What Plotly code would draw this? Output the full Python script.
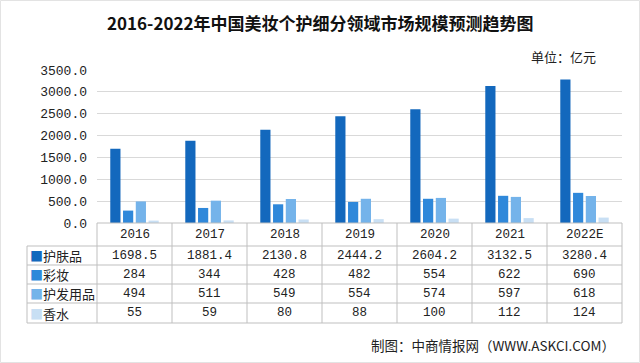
import plotly.graph_objects as go

years = ["2016", "2017", "2018", "2019", "2020", "2021", "2022E"]
series_names = ["护肤品", "彩妆", "护发用品", "香水"]
skincare = [1698.5, 1881.4, 2130.8, 2444.2, 2604.2, 3132.5, 3280.4]
makeup = [284, 344, 428, 482, 554, 622, 690]
haircare = [494, 511, 549, 554, 574, 597, 618]
perfume = [55, 59, 80, 88, 100, 112, 124]
table_text = [
    ["1698.5", "1881.4", "2130.8", "2444.2", "2604.2", "3132.5", "3280.4"],
    ["284", "344", "428", "482", "554", "622", "690"],
    ["494", "511", "549", "554", "574", "597", "618"],
    ["55", "59", "80", "88", "100", "112", "124"],
]
y_ticks = [0, 500, 1000, 1500, 2000, 2500, 3000, 3500]
y_tick_labels = ["0.0", "500.0", "1000.0", "1500.0", "2000.0", "2500.0", "3000.0", "3500.0"]

colors = ["#1368bd", "#2f88da", "#74b3ea", "#c8dff4"]
values = [skincare, makeup, haircare, perfume]

W, H = 640, 363
L, R, T, B = 97, 622, 70, 223
PW, PH = R - L, B - T


def py(Y):
    return (B - Y) / PH


def px(X):
    return (X - L) / PW


def pcat(i):
    # paper x of the centre of category i
    return (i + 0.5) / len(years)


fig = go.Figure()
for name, vals, c in zip(series_names, values, colors):
    fig.add_trace(go.Bar(x=years, y=vals, name=name, marker=dict(color=c, line=dict(width=0)),
                         hoverinfo="skip"))

mono = "Liberation Mono"
cjk = "Noto Sans CJK SC"
grid = "#d9d9d9"
border = "#bfbfbf"

ann = []
shapes = []


def note(x, y, text, font, xanchor="center"):
    ann.append(dict(x=x, y=y, xref="paper", yref="paper", text=text, showarrow=False,
                    xanchor=xanchor, yanchor="middle", font=font))


# header row (years)
for i, yr in enumerate(years):
    note(pcat(i), py(235), yr, dict(family=mono, size=12.5, color="#222"))
row_centers = [255.5, 274.5, 293.5, 313]
for r, (name, c) in enumerate(zip(series_names, colors)):
    note(px(28), py(row_centers[r]), f"<span style='color:{c}'>■</span>{name}",
         dict(family=cjk, size=13, color="#222"), xanchor="left")
    for i in range(len(years)):
        note(pcat(i), py(row_centers[r]), table_text[r][i], dict(family=mono, size=12.5, color="#222"))

# table lines
hlines = [246, 265, 284, 303, 323]
for Y in hlines:
    shapes.append(dict(type="line", xref="paper", yref="paper", x0=px(27), x1=1, y0=py(Y), y1=py(Y),
                       line=dict(color=border, width=1)))
shapes.append(dict(type="line", xref="paper", yref="paper", x0=0, x1=1, y0=0, y1=0,
                   line=dict(color=border, width=1)))
for i in range(len(years) + 1):
    xp = i / len(years)
    shapes.append(dict(type="line", xref="paper", yref="paper", x0=xp, x1=xp, y0=0, y1=py(323),
                       line=dict(color=border, width=1)))
shapes.append(dict(type="line", xref="paper", yref="paper", x0=px(27), x1=px(27), y0=py(246), y1=py(323),
                   line=dict(color=border, width=1)))
# outer frame
shapes.append(dict(type="rect", xref="paper", yref="paper", x0=px(0.5), x1=px(639.5), y0=py(362.5), y1=py(0.5),
                   line=dict(color="#e3e3e3", width=1)))

note(px(320), py(22), "<b>2016-2022年中国美妆个护细分领域市场规模预测趋势图</b>",
     dict(family=cjk, size=17, color="#111"))
note(px(598), py(56), "单位：亿元", dict(family=cjk, size=13, color="#222"), xanchor="right")
note(px(617), py(345), "制图：中商情报网（WWW.ASKCI.COM）", dict(family=cjk, size=13.5, color="#222"),
     xanchor="right")

fig.update_layout(
    width=W, height=H,
    margin=dict(l=L, r=W - R, t=T, b=H - B, pad=0),
    paper_bgcolor="white", plot_bgcolor="white",
    barmode="group", bargap=0.32, bargroupgap=0.2,
    showlegend=False, hovermode=False,
    xaxis=dict(type="category", categoryorder="array", categoryarray=years,
               range=[-0.5, len(years) - 0.5],
               showticklabels=False, showgrid=False, zeroline=False, showline=False, fixedrange=True),
    yaxis=dict(range=[0, 3500], tickvals=y_ticks, ticktext=y_tick_labels, showgrid=True,
               gridcolor=grid, gridwidth=1, zeroline=False, showline=False, ticks="",
               tickfont=dict(family=mono, size=13, color="#222"), ticklabelstandoff=9,
               fixedrange=True),
    annotations=ann, shapes=shapes,
)

fig.write_html("out.html", config={"displayModeBar": False, "staticPlot": True},
               post_script="document.body.style.margin='0';")
